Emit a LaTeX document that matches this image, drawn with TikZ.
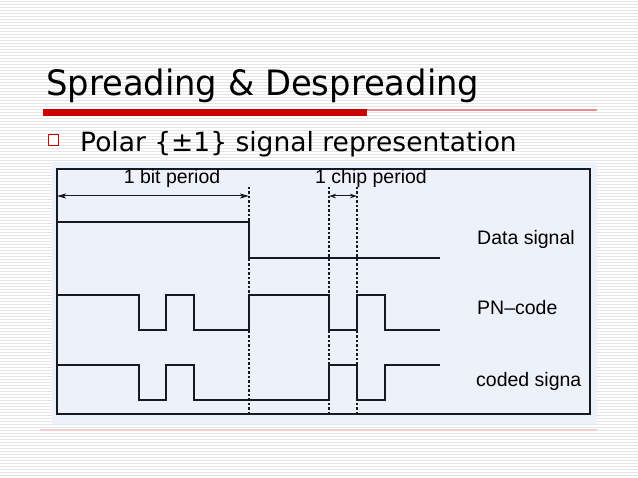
\documentclass[tikz,border=0pt]{standalone}
\usepackage{fontspec,graphicx}
\setmainfont{DejaVu Sans}
\newfontfamily\figfont{Liberation Sans}
\usetikzlibrary{arrows.meta}
\definecolor{slidered}{RGB}{204,0,0}
\definecolor{thinred}{RGB}{232,140,140}
\definecolor{pinkline}{RGB}{246,205,205}
\definecolor{boxbg}{RGB}{237,241,250}
\definecolor{stripegray}{RGB}{230,230,230}
\definecolor{ink}{RGB}{25,25,35}
\tikzset{
  stripe/.style={stripegray, line width=0.9pt},
  wave/.style={ink, line width=1.4pt, line join=miter},
  tick/.style={ink, line width=1.2pt, dash pattern=on 2.5pt off 2pt},
  period/.style={ink, line width=1pt, {Stealth[length=9pt,width=5pt,inset=2pt]}-{Stealth[length=9pt,width=5pt,inset=2pt]}},
  siglabel/.style={anchor=base west, inner sep=0pt, font=\figfont\fontsize{19.5}{20}\selectfont}
}

\begin{document}
\begin{tikzpicture}[x=1pt,y=-1pt]
\def\datasig{(57,222) -- (249,222) -- (249,258) -- (440,258)}
\def\pncode{(57,295) -- (139,295) -- (139,330) -- (166,330) -- (166,295) -- (194,295) -- (194,330) -- (249,330) -- (249,295) -- (329,295) -- (329,330) -- (357,330) -- (357,295) -- (385,295) -- (385,330) -- (440,330)}
\def\codedsig{(57,365) -- (139,365) -- (139,400) -- (166,400) -- (166,365) -- (194,365) -- (194,400) -- (329,400) -- (329,365) -- (357,365) -- (357,400) -- (385,400) -- (385,365) -- (440,365)}
\useasboundingbox (0,0) rectangle (638,478);
\fill[white] (0,0) rectangle (638,478);
\foreach \y in {1,4,...,477}
  \draw[stripe] (0,\y) -- (638,\y);
\node[anchor=base west, inner sep=0pt] (title) at (46,96)
  {\fontsize{35}{35}\selectfont\scalebox{0.965}[1]{Spreading \& Despreading}};
\fill[slidered] (43,109) rectangle (367,116);
\draw[thinred, line width=1.5pt] (367,110) -- (597,110);
\draw[slidered, fill=white, line width=1.2pt] (48.5,134.5) rectangle (58.5,145.5);
\node[anchor=base west, inner sep=0pt] (bullet) at (80,152)
  {\fontsize{26.5}{26.5}\selectfont Polar \{±1\} signal representation};
\fill[boxbg] (52,162) rectangle (597,424);
\draw[pinkline, line width=1.5pt] (40,430) -- (597,430);
\draw[ink, line width=1.5pt] (57,169) rectangle (590,414);
\coordinate (bitA) at (57,196);
\coordinate (bitB) at (249,196);
\coordinate (chipA) at (329,196);
\coordinate (chipB) at (357,196);
\draw[tick] (249,187) -- (249,414);
\draw[tick] (329,187) -- (329,414);
\draw[tick] (357,187) -- (357,414);
\draw[period] (bitA) -- (bitB);
\draw[period, {Stealth[length=7pt,width=4.5pt,inset=2pt]}-{Stealth[length=7pt,width=4.5pt,inset=2pt]}] (chipA) -- (chipB);
\node[siglabel, anchor=base] (bitlbl) at (172,184) {1 bit period};
\node[siglabel, anchor=base] (chiplbl) at (371,184) {1 chip period};
\draw[wave] \datasig;
\draw[wave] \pncode;
\draw[wave] \codedsig;
\node[siglabel] (datalbl) at (477,245) {Data signal};
\node[siglabel] (pnlbl) at (477,315) {PN–code};
\node[siglabel] (codedlbl) at (476,387) {coded signa};
\end{tikzpicture}
\end{document}
